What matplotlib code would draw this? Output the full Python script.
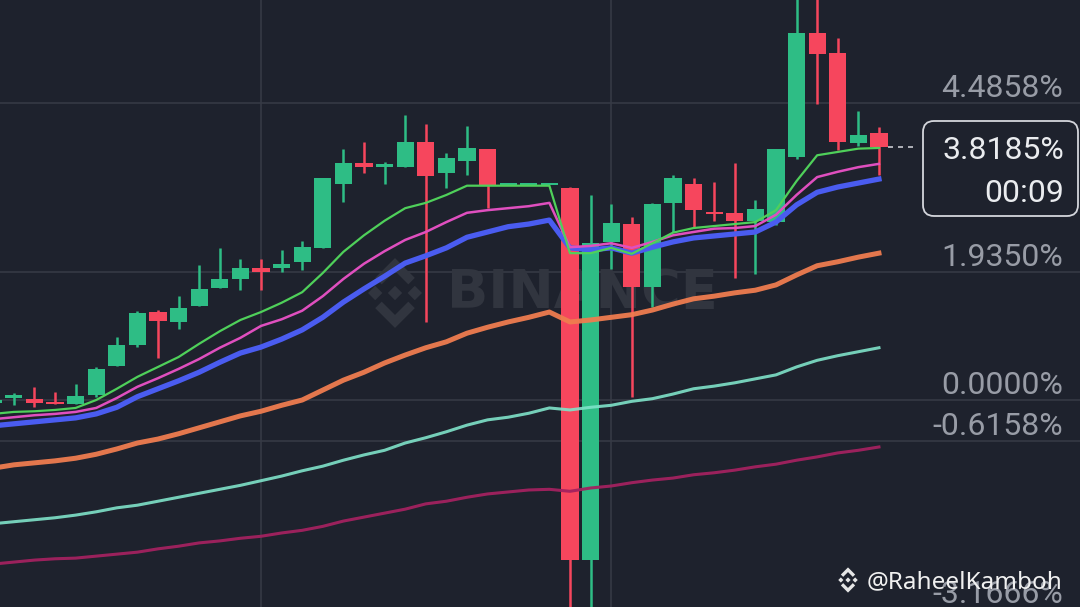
import numpy as np
import matplotlib
matplotlib.use("Agg")
import matplotlib.pyplot as plt
from matplotlib.patches import Polygon, FancyBboxPatch
from matplotlib.transforms import IdentityTransform

# candles, values in % (one per bar)
opens = [-0.05, 0.03, 0.02, -0.03, -0.06, 0.08, 0.51, 0.83, 1.33, 1.18,
         1.42, 1.69, 1.83, 2.00, 2.00, 2.09, 2.30, 3.27, 3.58, 3.52,
         3.52, 3.90, 3.43, 3.61, 3.80, 3.25, 3.25, 3.25, 3.21, -2.42,
         2.39, 2.66, 1.71, 2.98, 3.27, 2.84, 2.83, 2.71, 2.69, 3.67,
         5.55, 5.25, 3.89, 4.04]
highs = [0.03, 0.11, 0.20, 0.12, 0.24, 0.50, 0.95, 1.35, 1.36, 1.57,
         2.04, 2.30, 2.13, 2.13, 2.27, 2.40, 3.36, 3.80, 3.90, 3.60,
         4.31, 4.17, 3.73, 4.14, 3.80, 3.25, 3.25, 3.25, 3.22, 3.10,
         2.96, 2.77, 2.98, 3.40, 3.36, 3.30, 3.58, 3.02, 3.80, 6.20,
         6.20, 5.47, 4.37, 4.13]
lows = [-0.08, -0.08, -0.11, -0.06, -0.06, 0.05, 0.51, 0.80, 0.64, 1.07,
        1.42, 1.69, 1.66, 1.66, 1.94, 1.97, 2.30, 2.99, 3.43, 3.27,
        3.52, 1.18, 3.21, 3.40, 2.90, 3.25, 3.25, 3.25, -3.63, -3.63,
        1.98, 0.05, 1.41, 2.54, 2.62, 2.71, 1.84, 1.91, 2.65, 3.64,
        4.48, 3.78, 3.84, 3.40]
closes = [0.00, 0.08, -0.05, -0.06, 0.06, 0.47, 0.83, 1.32, 1.19, 1.39,
          1.68, 1.83, 2.00, 1.94, 2.06, 2.31, 3.36, 3.58, 3.52, 3.57,
          3.90, 3.39, 3.66, 3.81, 3.25, 3.25, 3.25, 3.25, -2.42, 2.37,
          2.68, 1.71, 2.96, 3.36, 2.87, 2.81, 2.71, 2.89, 3.80, 5.55,
          5.23, 3.90, 4.01, 3.8185]

# moving averages
ma_green = [-0.21, -0.18, -0.17, -0.15, -0.12, 0.00, 0.17, 0.35, 0.50, 0.65,
            0.85, 1.04, 1.21, 1.33, 1.47, 1.63, 1.92, 2.24, 2.49, 2.71,
            2.90, 2.98, 3.10, 3.24, 3.24, 3.24, 3.24, 3.24, 2.22, 2.22,
            2.30, 2.21, 2.37, 2.53, 2.60, 2.63, 2.66, 2.69, 2.87, 3.31,
            3.70, 3.75, 3.80, 3.81]
ma_pink = [-0.29, -0.26, -0.23, -0.21, -0.18, -0.12, 0.03, 0.20, 0.33, 0.47,
           0.62, 0.79, 0.94, 1.12, 1.22, 1.35, 1.57, 1.83, 2.06, 2.25,
           2.42, 2.54, 2.69, 2.83, 2.87, 2.90, 2.93, 2.98, 2.31, 2.33,
           2.37, 2.30, 2.39, 2.49, 2.54, 2.59, 2.60, 2.63, 2.80, 3.10,
           3.37, 3.45, 3.52, 3.57]
ma_blue = [-0.39, -0.36, -0.33, -0.30, -0.27, -0.21, -0.11, 0.05, 0.17, 0.29,
           0.42, 0.57, 0.71, 0.80, 0.92, 1.06, 1.25, 1.48, 1.68, 1.87,
           2.07, 2.18, 2.30, 2.46, 2.54, 2.62, 2.66, 2.72, 2.30, 2.27,
           2.30, 2.22, 2.31, 2.39, 2.45, 2.48, 2.51, 2.54, 2.69, 2.95,
           3.14, 3.22, 3.28, 3.34]
ma_orange = [-1.03, -0.98, -0.95, -0.92, -0.88, -0.82, -0.74, -0.65, -0.59, -0.51,
             -0.42, -0.33, -0.24, -0.17, -0.08, 0.00, 0.15, 0.30, 0.42, 0.56,
             0.68, 0.79, 0.88, 1.01, 1.10, 1.18, 1.25, 1.33, 1.18, 1.21,
             1.25, 1.29, 1.36, 1.45, 1.53, 1.57, 1.62, 1.66, 1.74, 1.89,
             2.03, 2.09, 2.16, 2.22]
ma_teal = [-1.87, -1.84, -1.81, -1.78, -1.74, -1.69, -1.63, -1.59, -1.53, -1.47,
           -1.41, -1.35, -1.29, -1.22, -1.15, -1.07, -1.00, -0.91, -0.83, -0.76,
           -0.65, -0.57, -0.48, -0.38, -0.30, -0.26, -0.20, -0.12, -0.15, -0.11,
           -0.08, -0.02, 0.02, 0.09, 0.17, 0.21, 0.26, 0.32, 0.38, 0.50,
           0.60, 0.67, 0.73, 0.79]
ma_maroon = [-2.48, -2.45, -2.42, -2.40, -2.39, -2.36, -2.33, -2.30, -2.25, -2.21,
             -2.16, -2.13, -2.09, -2.06, -2.01, -1.97, -1.91, -1.83, -1.77, -1.71,
             -1.65, -1.57, -1.53, -1.47, -1.42, -1.39, -1.36, -1.35, -1.38, -1.33,
             -1.30, -1.25, -1.21, -1.18, -1.13, -1.10, -1.06, -1.01, -0.97, -0.91,
             -0.86, -0.80, -0.76, -0.71]

levels = [4.4858, 1.9350, 0.0000, -0.6158, -3.1666]
level_labels = ["4.4858%", "1.9350%", "0.0000%", "-0.6158%", "-3.1666%"]
vgrid = [13, 30]
price_label = "3.8185%"
timer_label = "00:09"
watermark = "BINANCE"
handle = "@RaheelKamboh"

bg = "#1e222d"
up_col = "#2ebd85"
dn_col = "#f6465d"
grid_col = "#363a45"
lab_col = "#989ca6"
wm_col = "#31353f"

W, H = 1080, 607
fig = plt.figure(figsize=(W / 100, H / 100), dpi=100)
fig.patch.set_facecolor(bg)
ax = fig.add_axes([0, 0, 1, 1])
ax.set_facecolor(bg)
ax.set_xlim(0.33, 52.76)
ax.set_ylim(-3.129, 6.047)
for s in ax.spines.values():
    s.set_visible(False)
ax.set_xticks([])
ax.set_yticks([])

# grid
for lv in levels:
    ax.axhline(lv, color=grid_col, lw=1.2, zorder=0.2)
for v in vgrid:
    ax.axvline(v, color=grid_col, lw=1.2, zorder=0.2)


def logo(target, cx, cy, s, color, z):
    # rough binance logo, pixel coords (y from top)
    parts = [
        [(0, 0.2), (0.2, 0), (0, -0.2), (-0.2, 0)],
        [(-0.55, 0.2), (-0.35, 0), (-0.55, -0.2), (-0.75, 0)],
        [(0.55, 0.2), (0.75, 0), (0.55, -0.2), (0.35, 0)],
        [(-0.55, 0.42), (0, 0.97), (0.55, 0.42), (0.37, 0.24), (0, 0.61), (-0.37, 0.24)],
        [(-0.55, -0.42), (0, -0.97), (0.55, -0.42), (0.37, -0.24), (0, -0.61), (-0.37, -0.24)],
    ]
    for p in parts:
        pts = [(cx + s * a, H - cy + s * b) for a, b in p]
        pg = Polygon(pts, closed=True, color=color, lw=0, zorder=z)
        target.add_artist(pg)
        pg.set_transform(IdentityTransform())


# watermark (behind the axes content)
ax.text(447, H - 293, watermark, transform=IdentityTransform(), fontsize=39,
        fontweight="bold", family="DejaVu Sans", color=wm_col, va="center",
        ha="left", zorder=0.5)
logo(ax, 395, 293, 36, wm_col, 0.5)

# candles
x = np.arange(len(closes))
o = np.array(opens)
c = np.array(closes)
cols = [up_col if cc >= oo else dn_col for oo, cc in zip(o, c)]
ax.vlines(x, lows, highs, colors=cols, lw=1.8, zorder=2)
ax.bar(x, np.maximum(np.abs(c - o), 0.03), bottom=np.minimum(o, c), width=0.83,
       color=cols, zorder=2.1)

# moving averages
ax.plot(x, ma_maroon, color="#a3215f", lw=2.2, zorder=3, alpha=0.95)
ax.plot(x, ma_teal, color="#7fe3c9", lw=2.2, zorder=3, alpha=0.9)
ax.plot(x, ma_orange, color="#ef7c4f", lw=3.6, zorder=3, alpha=0.95)
ax.plot(x, ma_blue, color="#4a5cf0", lw=3.8, zorder=3)
ax.plot(x, ma_pink, color="#e04fbf", lw=1.8, zorder=3.1)
ax.plot(x, ma_green, color="#4fd05a", lw=1.6, zorder=3.2)

# right labels
for lv, lab in zip(levels, level_labels):
    ax.annotate(lab, xy=(1, lv), xycoords=("axes fraction", "data"),
                xytext=(-17, 6), textcoords="offset pixels", ha="right",
                va="baseline", fontsize=23, family="Roboto", color=lab_col,
                zorder=4)

# current price tag
ax.hlines(closes[-1], 43.45, 44.9, colors="#c8cad0", lw=1.2,
          linestyles=(0, (3, 3)), zorder=4)
box = FancyBboxPatch((923, H - 216), 155, 95, boxstyle="round,pad=0,rounding_size=11",
                     transform=IdentityTransform(), fc=bg, ec="#d4d6dc", lw=1.3,
                     zorder=5)
fig.add_artist(box)
fig.text(1064, H - 159, price_label, transform=IdentityTransform(), ha="right",
         va="baseline", fontsize=23, family="Roboto", color="#eaecef", zorder=6)
fig.text(1064, H - 202, timer_label, transform=IdentityTransform(), ha="right",
         va="baseline", fontsize=23, family="Roboto", color="#eaecef", zorder=6)

# handle
logo(fig, 848, 580, 13, "#e6e6e6", 7)
fig.text(867, H - 588, handle, transform=IdentityTransform(), ha="left",
         va="baseline", fontsize=17.5, family="Noto Sans", color="#f0f0f0", zorder=7)

fig.savefig("out.png", dpi=100, facecolor=bg)
